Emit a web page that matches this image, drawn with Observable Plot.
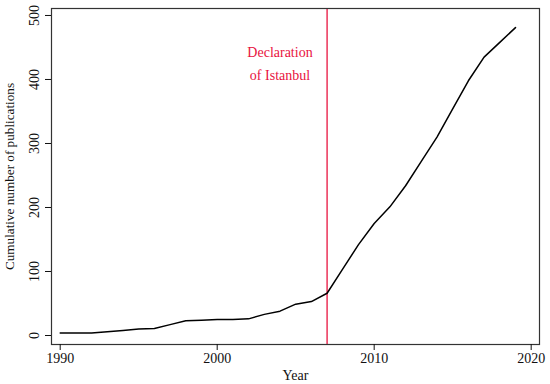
<!DOCTYPE html>
<html>
<head>
<meta charset="utf-8">
<script src="https://cdn.jsdelivr.net/npm/d3@7"></script>
<script src="https://cdn.jsdelivr.net/npm/@observablehq/plot@0.6"></script>
<style>
  html, body { margin: 0; padding: 0; background: white; }
  #chart { width: 550px; height: 384px; }
  #chart svg g[aria-label="y-axis label"] text { font-size: 13.2px; }
</style>
</head>
<body>
<div id="chart"></div>
<script>
const years = [1990,1991,1992,1993,1994,1995,1996,1997,1998,1999,2000,2001,2002,2003,2004,2005,2006,2007,2008,2009,2010,2011,2012,2013,2014,2015,2016,2017,2018,2019];
const pubs  = [4,4,4,6,8,10,11,17,23,24,25,25,26,33,38,49,53,66,104,142,175,201,234,272,310,354,398,435,458,481];
const xTicks = [1990, 2000, 2010, 2020];
const yTicks = [0, 100, 200, 300, 400, 500];
const eventYear = [2007];
const eventLabel = ["Declaration", "of Istanbul"];

const data = years.map((year, i) => ({year, pubs: pubs[i]}));
const red = "#e8123e";

const chart = Plot.plot({
  width: 550,
  height: 384,
  marginLeft: 51,
  marginRight: 11,
  marginTop: 8,
  marginBottom: 40,
  style: {
    fontFamily: "'Liberation Serif', 'Times New Roman', serif",
    fontSize: "14px",
    background: "white",
    color: "#111"
  },
  x: {domain: [1989.446, 2020.53]},
  y: {domain: [-14.06, 510.9]},
  marks: [
    Plot.ruleX(eventYear, {stroke: red, strokeWidth: 1.3}),
    Plot.line(data, {x: "year", y: "pubs", stroke: "black", strokeWidth: 1.5}),
    Plot.text([eventLabel.join("\n")], {
      x: 2004, y: 429, text: d => d, fill: red, fontSize: 14, lineHeight: 1.64
    }),
    Plot.frame({stroke: "#333", strokeWidth: 1.2}),
    Plot.axisX({
      ticks: xTicks, tickFormat: d => String(d), tickSize: 6, tickPadding: 3,
      label: "Year", labelAnchor: "center", labelArrow: "none", labelOffset: 35
    }),
    Plot.axisY({
      ticks: yTicks, tickSize: 6, tickPadding: 7, tickRotate: -90,
      label: "Cumulative number of publications", labelAnchor: "center",
      labelArrow: "none", labelOffset: 47
    })
  ]
});
document.getElementById("chart").appendChild(chart);
</script>
</body>
</html>
